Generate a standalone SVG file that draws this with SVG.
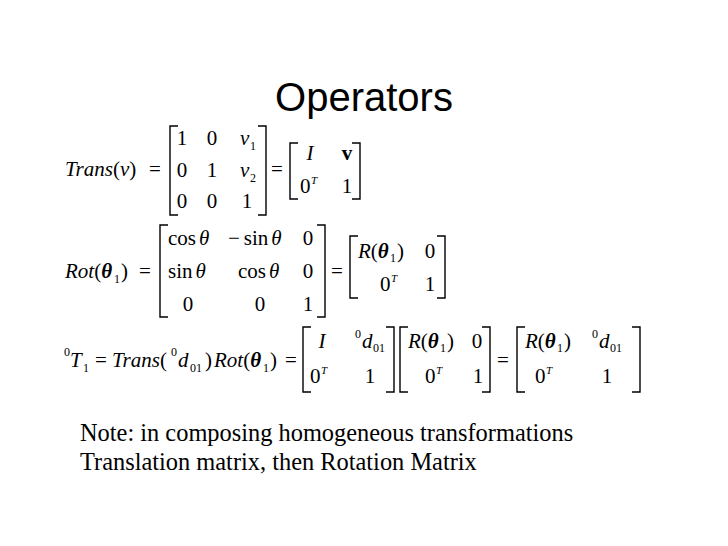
<svg xmlns="http://www.w3.org/2000/svg" width="728" height="546" viewBox="0 0 728 546">
<style>
text{font-family:"Liberation Serif","Times New Roman",serif;fill:#000}
.m{font-size:21px}
.i{font-style:italic}
.s{font-size:12px}
.t{font-size:11px;font-style:italic}
.c{text-anchor:middle}
.br{fill:none;stroke:#000;stroke-width:1.4}
.title{font-family:"Liberation Sans",Arial,sans-serif;font-size:40px;text-anchor:middle}
.note{font-size:24.4px}
</style>
<rect width="728" height="546" fill="#fff"/>
<text class="title" x="364" y="111">Operators</text>

<g id="eq-trans">
<text class="m i" x="65" y="176">Trans<tspan font-style="normal">(</tspan>v<tspan font-style="normal">)</tspan></text>
<text class="m" x="149" y="176">=</text>
<path class="br" d="M178 126H170V215H178M258 126H266V215H258"/>
<text class="m c" x="182" y="145">1</text><text class="m c" x="212" y="145">0</text>
<text class="m i" x="240" y="145">v</text><text class="s" x="250" y="150">1</text>
<text class="m c" x="182" y="177">0</text><text class="m c" x="212" y="177">1</text>
<text class="m i" x="240" y="177">v</text><text class="s" x="250" y="182">2</text>
<text class="m c" x="182" y="208">0</text><text class="m c" x="212" y="208">0</text><text class="m c" x="247" y="208">1</text>
<text class="m" x="271" y="176">=</text>
<path class="br" d="M298 143H290V199H298M352 143H360V199H352"/>
<text class="m i c" x="310" y="160">I</text>
<text class="m c" x="347" y="160" font-weight="bold">v</text>
<text class="m" x="300" y="193">0</text><text class="t" x="311" y="184">T</text>
<text class="m c" x="347" y="193">1</text>
</g>

<g id="eq-rot">
<text class="m i" x="65" y="278">Rot<tspan font-style="normal">(</tspan><tspan font-weight="bold">θ</tspan></text>
<text class="s" x="114" y="283">1</text>
<text class="m" x="121" y="278">)</text>
<text class="m" x="139" y="278">=</text>
<path class="br" d="M168 225H160V317H168M317 225H325V317H317"/>
<text class="m" x="168" y="245">cos<tspan class="i" dx="3">θ</tspan></text>
<text class="m" x="228" y="245">−<tspan dx="4">sin</tspan><tspan class="i" dx="3">θ</tspan></text>
<text class="m c" x="308" y="245">0</text>
<text class="m" x="168" y="278">sin<tspan class="i" dx="3">θ</tspan></text>
<text class="m" x="238" y="278">cos<tspan class="i" dx="3">θ</tspan></text>
<text class="m c" x="308" y="278">0</text>
<text class="m c" x="188" y="311">0</text><text class="m c" x="260" y="311">0</text><text class="m c" x="308" y="311">1</text>
<text class="m" x="331" y="278">=</text>
<path class="br" d="M358 236H350V298H358M437 236H445V298H437"/>
<text class="m i" x="358" y="258">R<tspan font-style="normal">(</tspan><tspan font-weight="bold">θ</tspan></text>
<text class="s" x="390" y="262">1</text><text class="m" x="397" y="258">)</text>
<text class="m c" x="430" y="258">0</text>
<text class="m" x="380" y="291">0</text><text class="t" x="391" y="282">T</text>
<text class="m c" x="430" y="291">1</text>
</g>

<g id="eq-compose">
<text class="s" x="64" y="356">0</text>
<text class="m i" x="70" y="367">T</text><text class="s" x="83" y="372">1</text>
<text class="m" x="95" y="367">=</text>
<text class="m i" x="112" y="367">Trans<tspan font-style="normal">(</tspan></text>
<text class="s" x="171" y="356">0</text>
<text class="m i" x="178" y="367">d</text><text class="s" x="190" y="372">01</text>
<text class="m" x="205" y="367">)</text>
<text class="m i" x="214" y="367">Rot<tspan font-style="normal">(</tspan><tspan font-weight="bold">θ</tspan></text>
<text class="s" x="263" y="372">1</text><text class="m" x="270" y="367">)</text>
<text class="m" x="285" y="367">=</text>
<path class="br" d="M311 327H303V392H311M386 327H394V392H386"/>
<text class="m i c" x="322" y="348">I</text>
<text class="s" x="355" y="338">0</text><text class="m i" x="362" y="348">d</text><text class="s" x="373" y="352">01</text>
<text class="m" x="310" y="383">0</text><text class="t" x="321" y="374">T</text>
<text class="m c" x="370" y="383">1</text>
<path class="br" d="M408 327H400V392H408M482 327H490V392H482"/>
<text class="m i" x="408" y="348">R<tspan font-style="normal">(</tspan><tspan font-weight="bold">θ</tspan></text>
<text class="s" x="440" y="352">1</text><text class="m" x="447" y="348">)</text>
<text class="m c" x="477" y="348">0</text>
<text class="m" x="425" y="383">0</text><text class="t" x="436" y="374">T</text>
<text class="m c" x="478" y="383">1</text>
<text class="m" x="497" y="367">=</text>
<path class="br" d="M525 327H517V392H525M632 327H640V392H632"/>
<text class="m i" x="525" y="348">R<tspan font-style="normal">(</tspan><tspan font-weight="bold">θ</tspan></text>
<text class="s" x="557" y="352">1</text><text class="m" x="564" y="348">)</text>
<text class="s" x="592" y="338">0</text><text class="m i" x="599" y="348">d</text><text class="s" x="610" y="352">01</text>
<text class="m" x="535" y="383">0</text><text class="t" x="546" y="374">T</text>
<text class="m c" x="607" y="383">1</text>
</g>

<g id="note">
<text class="note" x="80" y="441">Note: in composing homogeneous transformations</text>
<text class="note" x="80" y="470">Translation matrix, then Rotation Matrix</text>
</g>
</svg>
